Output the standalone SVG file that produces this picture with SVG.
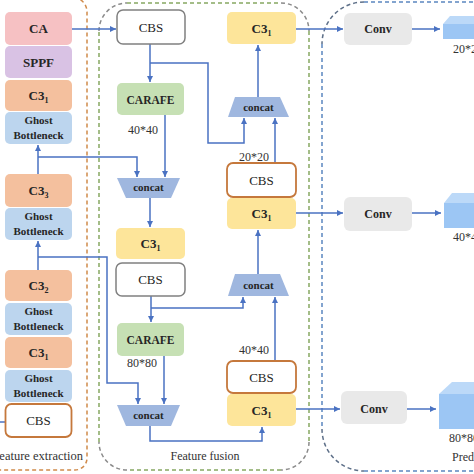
<svg xmlns="http://www.w3.org/2000/svg" width="474" height="474" viewBox="0 0 474 474">
<defs>
<marker id="ah" viewBox="0 0 6 6" refX="6" refY="3" markerWidth="6" markerHeight="6" markerUnits="userSpaceOnUse" orient="auto">
<path d="M0,0 L6,3 L0,6 z" fill="#4a72c2"/>
</marker>
<style>
.t{font-family:"Liberation Serif","Times New Roman",serif;fill:#262626;text-anchor:middle}
.b{font-weight:bold}
.n13{font-size:13px}
.n11{font-size:11px}
.lbl{font-size:12px;font-family:"Liberation Serif","Times New Roman",serif;fill:#333}
.ca{fill:#f6c1c3}
.sppf{fill:#d9c2e4}
.c3o{fill:#f4c09e}
.gh{fill:#bcd5ee}
.cbsg{fill:#fff;stroke:#808080;stroke-width:1.5}
.cbso{fill:#fff;stroke:#c5783c;stroke-width:1.8}
.car{fill:#c6e0b4}
.c3y{fill:#fde59a}
.cc{fill:#9fb7df}
.conv{fill:#e9e9e9}
.ln{fill:none;stroke:#4a72c2;stroke-width:1.5}
.ar{marker-end:url(#ah)}
.cfront{fill:#9cc6f4}
.ctop{fill:#bcd9f8}
</style>
</defs>
<rect width="474" height="474" fill="#fff"/>

<g id="containers" fill="none" stroke-width="1.5" stroke-dasharray="4 3">
<path d="M-10,-3 H72 A15 15 0 0 1 87,12 V458 A12 12 0 0 1 75,470 H-10" stroke="#d08a4a"/>
<path d="M127,3 H281 M309,31 V442 M281,470 H127 M99,442 V31" stroke="#86a862"/>
<path d="M99,31 A28 28 0 0 1 127,3 M281,3 A28 28 0 0 1 309,31 M309,442 A28 28 0 0 1 281,470 M127,470 A28 28 0 0 1 99,442" stroke="#8a8a8a"/>
<path d="M364,2 H480 M322,44 V429 M364,471 H480" stroke="#5b86c0"/>
<path d="M364,2 A42 42 0 0 0 322,44 M322,429 A42 42 0 0 0 364,471" stroke="#5d6f88"/>
<text class="lbl" x="83" y="460" text-anchor="end" font-size="12.5" style="font-size:12.5px">Feature extraction</text>
<text class="lbl" x="205" y="460" text-anchor="middle">Feature fusion</text>
<text class="lbl" x="452" y="461">Prediction</text>
</g>

<g id="connectors">
<path class="ln ar" d="M72,29 H116"/>
<path class="ln ar" d="M150,44 V82"/>
<path class="ln ar" d="M150,63 H208 V143 H244 V118"/>
<path class="ln ar" d="M165,115 V177"/>
<path class="ln ar" d="M38,174 V145"/>
<path class="ln ar" d="M38,157 H137 V177"/>
<path class="ln ar" d="M150,198 V227"/>
<path class="ln ar" d="M151,296 V322"/>
<path class="ln ar" d="M151,308 H243 V297"/>
<path class="ln ar" d="M164,356 V404"/>
<path class="ln ar" d="M38,270 V241"/>
<path class="ln ar" d="M38,257 H107 V383 H138 V404"/>
<path class="ln ar" d="M150,426 V441 H262 V427"/>
<path class="ln ar" d="M275,361 V297"/>
<path class="ln ar" d="M258,274 V230"/>
<path class="ln ar" d="M275,163 V118"/>
<path class="ln ar" d="M258,97 V45"/>
<path class="ln ar" d="M296,29 H343"/>
<path class="ln ar" d="M412,29 H440"/>
<path class="ln ar" d="M296,213 H343"/>
<path class="ln ar" d="M412,213 H441"/>
<path class="ln ar" d="M296,409 H340"/>
<path class="ln ar" d="M407,409 H436"/>
<path class="ln" d="M0,422 H5"/>
</g>

<g id="ca"><rect class="ca" x="5" y="12" width="67" height="33" rx="5"/><text class="t b n13" x="38.5" y="33">CA</text></g>
<g id="sppf"><rect class="sppf" x="5" y="46" width="67" height="32" rx="5"/><text class="t b n13" x="38.5" y="67">SPPF</text></g>
<g id="c3-b1"><rect class="c3o" x="5" y="80" width="67" height="31" rx="5"/><text class="t b n13" x="38.5" y="100">C3<tspan font-size="8" dy="3">1</tspan></text></g>
<g id="ghost1"><rect class="gh" x="5" y="112" width="67" height="32" rx="5"/><text class="t b n11" x="38.5" y="124">Ghost</text><text class="t b n11" x="38.5" y="139">Bottleneck</text></g>
<g id="c3-b3"><rect class="c3o" x="5" y="174" width="67" height="33" rx="5"/><text class="t b n13" x="38.5" y="195">C3<tspan font-size="8" dy="3">3</tspan></text></g>
<g id="ghost2"><rect class="gh" x="5" y="208" width="67" height="32" rx="5"/><text class="t b n11" x="38.5" y="220">Ghost</text><text class="t b n11" x="38.5" y="235">Bottleneck</text></g>
<g id="c3-b2"><rect class="c3o" x="5" y="270" width="67" height="31" rx="5"/><text class="t b n13" x="38.5" y="290">C3<tspan font-size="8" dy="3">2</tspan></text></g>
<g id="ghost3"><rect class="gh" x="5" y="303" width="67" height="32" rx="5"/><text class="t b n11" x="38.5" y="315">Ghost</text><text class="t b n11" x="38.5" y="330">Bottleneck</text></g>
<g id="c3-b4"><rect class="c3o" x="5" y="337" width="67" height="31" rx="5"/><text class="t b n13" x="38.5" y="357">C3<tspan font-size="8" dy="3">1</tspan></text></g>
<g id="ghost4"><rect class="gh" x="5" y="370" width="67" height="32" rx="5"/><text class="t b n11" x="38.5" y="382">Ghost</text><text class="t b n11" x="38.5" y="397">Bottleneck</text></g>
<g id="cbs-b"><rect class="cbso" x="5.5" y="404" width="66" height="33" rx="6"/><text class="t n13" x="38.5" y="425">CBS</text></g>

<g id="cbs-f1"><rect class="cbsg" x="117" y="10" width="68" height="34" rx="6"/><text class="t n13" x="151" y="32">CBS</text></g>
<g id="carafe1"><rect class="car" x="117" y="83" width="67" height="32" rx="5"/><text class="t b" font-size="11.5" x="150.5" y="104">CARAFE</text><text class="lbl" x="143" y="134" text-anchor="middle">40*40</text></g>
<g id="concat1"><polygon class="cc" points="117,178 180,178 171,198 126,198"/><text class="t b n11" x="148.5" y="191">concat</text></g>
<g id="c3-f1"><rect class="c3y" x="116" y="228" width="69" height="31" rx="5"/><text class="t b n13" x="150.5" y="248">C3<tspan font-size="8" dy="3">1</tspan></text></g>
<g id="cbs-f2"><rect class="cbsg" x="116" y="263" width="69" height="33" rx="6"/><text class="t n13" x="150.5" y="284">CBS</text></g>
<g id="carafe2"><rect class="car" x="117" y="323" width="67" height="33" rx="5"/><text class="t b" font-size="11.5" x="150.5" y="344">CARAFE</text><text class="lbl" x="142" y="367" text-anchor="middle">80*80</text></g>
<g id="concat2"><polygon class="cc" points="117,405 180,405 171,426 126,426"/><text class="t b n11" x="148.5" y="419">concat</text></g>

<g id="c3-f2"><rect class="c3y" x="227" y="12" width="69" height="32" rx="5"/><text class="t b n13" x="261.5" y="33">C3<tspan font-size="8" dy="3">1</tspan></text></g>
<g id="concat3"><polygon class="cc" points="235,97 280,97 289,117 228,117"/><text class="t b n11" x="258.5" y="111">concat</text></g>
<g id="cbs-f3"><text class="lbl" x="254" y="161" text-anchor="middle">20*20</text><rect class="cbso" x="227" y="163" width="69" height="34" rx="6"/><text class="t n13" x="261.5" y="185">CBS</text></g>
<g id="c3-f3"><rect class="c3y" x="227" y="198" width="69" height="31" rx="5"/><text class="t b n13" x="261.5" y="218">C3<tspan font-size="8" dy="3">1</tspan></text></g>
<g id="concat4"><polygon class="cc" points="235,274 280,274 289,296 228,296"/><text class="t b n11" x="258.5" y="289">concat</text></g>
<g id="cbs-f4"><text class="lbl" x="254" y="354" text-anchor="middle">40*40</text><rect class="cbso" x="227" y="361" width="69" height="32" rx="6"/><text class="t n13" x="261.5" y="382">CBS</text></g>
<g id="c3-f4"><rect class="c3y" x="227" y="394" width="69" height="32" rx="5"/><text class="t b n13" x="261.5" y="415">C3<tspan font-size="8" dy="3">1</tspan></text></g>

<g id="conv1"><rect class="conv" x="344" y="13" width="68" height="32" rx="6"/><text class="t b" font-size="12" x="378" y="33">Conv</text></g>
<g id="conv2"><rect class="conv" x="344" y="197" width="68" height="34" rx="6"/><text class="t b" font-size="12" x="378" y="218">Conv</text></g>
<g id="conv3"><rect class="conv" x="341" y="391" width="66" height="33" rx="6"/><text class="t b" font-size="12" x="374" y="413">Conv</text></g>

<g id="out1"><polygon class="ctop" points="443,24 450,16 490,16 483,24"/><rect class="cfront" x="443" y="24" width="40" height="15"/><text class="lbl" x="453" y="53">20*20</text></g>
<g id="out2"><polygon class="ctop" points="444,203 452,193 490,193 482,203"/><rect class="cfront" x="444" y="203" width="40" height="25"/><text class="lbl" x="453" y="241">40*40</text></g>
<g id="out3"><polygon class="ctop" points="439,394 452,382 490,382 477,394"/><rect class="cfront" x="439" y="394" width="40" height="35"/><text class="lbl" x="449" y="442">80*80</text></g>
</svg>
